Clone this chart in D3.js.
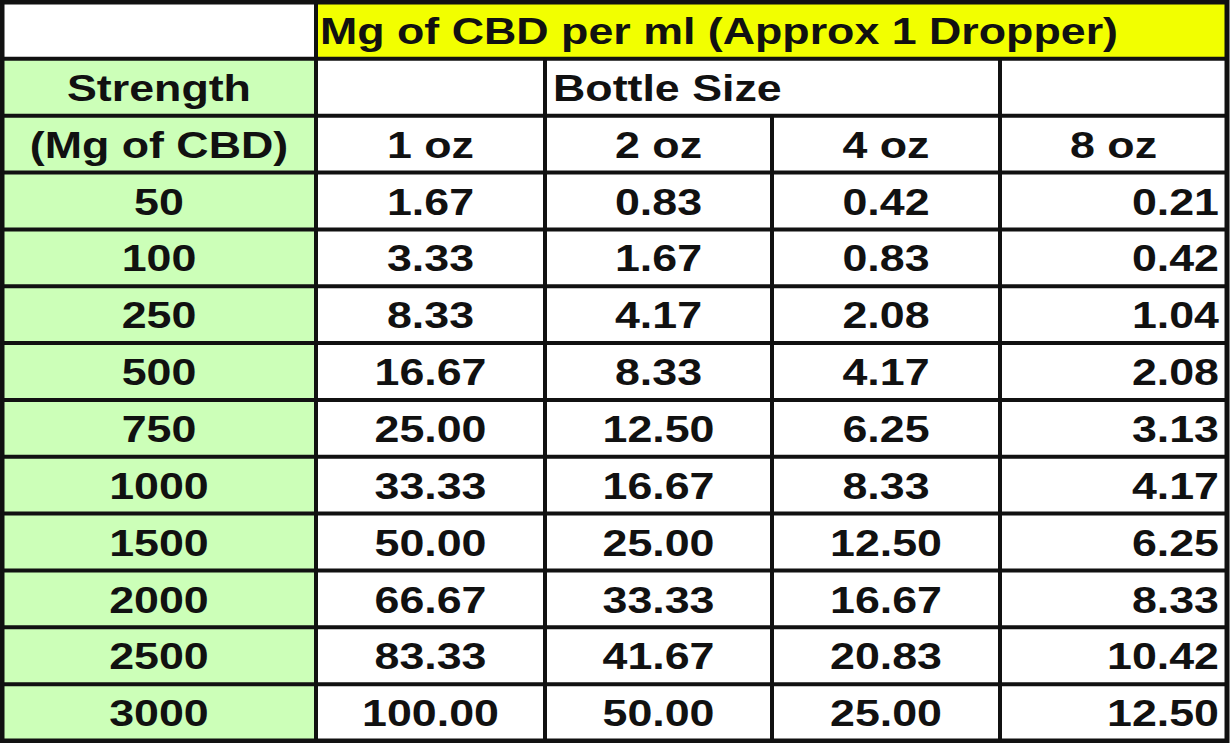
<!DOCTYPE html>
<html><head><meta charset="utf-8">
<script src="https://cdn.jsdelivr.net/npm/d3@7"></script>
<style>body{margin:0;background:#fff}svg{display:block}text{font-family:"Liberation Sans",Arial,sans-serif;font-weight:bold;fill:#111}</style>
</head><body><svg id="c" width="1230" height="743"></svg>
<script>
const title = "Mg of CBD per ml (Approx 1 Dropper)";
const strengthHeader = ["Strength", "(Mg of CBD)"];
const groupHeader = "Bottle Size";
const bottleSizes = ["1 oz", "2 oz", "4 oz", "8 oz"];
const strengths = [50, 100, 250, 500, 750, 1000, 1500, 2000, 2500, 3000];
const oz1 = [1.67, 3.33, 8.33, 16.67, 25.00, 33.33, 50.00, 66.67, 83.33, 100.00];
const oz2 = [0.83, 1.67, 4.17, 8.33, 12.50, 16.67, 25.00, 33.33, 41.67, 50.00];
const oz4 = [0.42, 0.83, 2.08, 4.17, 6.25, 8.33, 12.50, 16.67, 20.83, 25.00];
const oz8 = [0.21, 0.42, 1.04, 2.08, 3.13, 4.17, 6.25, 8.33, 10.42, 12.50];
const series = [oz1, oz2, oz4, oz8];

const svg = d3.select("#c");
const colEdges = [2, 316, 545, 772, 1000, 1227];
const x0 = i => colEdges[i], x1 = i => colEdges[i+1];
const y = d3.scaleLinear().domain([0, 13]).range([2, 741]);
const green = "#ccffb8", yellow = "#f2ff00";
const fs = 37, sx = 1.21;

function cell(c0, c1, r, fill){
  svg.append("rect").attr("x", x0(c0)).attr("y", y(r)).attr("width", x1(c1)-x0(c0)).attr("height", y(r+1)-y(r)).attr("fill", fill);
}
function txt(t, xx, r, anchor){
  svg.append("text").attr("transform", `scale(${sx},1)`).attr("x", xx/sx).attr("y", (y(r)+y(r+1))/2 + fs*0.37).attr("font-size", fs).attr("text-anchor", anchor).text(t);
}
cell(0,0,0,"#fff"); cell(1,4,0,yellow);
for (let r=1; r<13; r++){ cell(0,0,r,green); cell(1,4,r,"#fff"); }
txt(title, x0(1)+4, 0, "start");
txt(strengthHeader[0], (x0(0)+x1(0))/2, 1, "middle");
txt(strengthHeader[1], (x0(0)+x1(0))/2, 2, "middle");
txt(groupHeader, x0(2)+8, 1, "start");
bottleSizes.forEach((b,i)=> txt(b, (x0(i+1)+x1(i+1))/2, 2, "middle"));
strengths.forEach((s,r)=>{
  txt(String(s), (x0(0)+x1(0))/2, r+3, "middle");
  series.forEach((arr,i)=>{
    const v = arr[r].toFixed(2);
    if (i===3) txt(v, x1(4)-8, r+3, "end");
    else txt(v, (x0(i+1)+x1(i+1))/2, r+3, "middle");
  });
});
const line = (xa,ya,xb,yb,w)=>svg.append("line").attr("x1",xa).attr("y1",ya).attr("x2",xb).attr("y2",yb).attr("stroke","#111").attr("stroke-width",w);
for (let r=1; r<13; r++) line(x0(0), y(r), x1(4), y(r), 4);
line(x1(0), y(0), x1(0), y(13), 4);
line(x1(1), y(1), x1(1), y(13), 4);
line(x1(2), y(2), x1(2), y(13), 4);
line(x1(3), y(1), x1(3), y(13), 4);
svg.append("rect").attr("x",2).attr("y",2).attr("width",1225).attr("height",739).attr("fill","none").attr("stroke","#111").attr("stroke-width",5);
</script></body></html>
